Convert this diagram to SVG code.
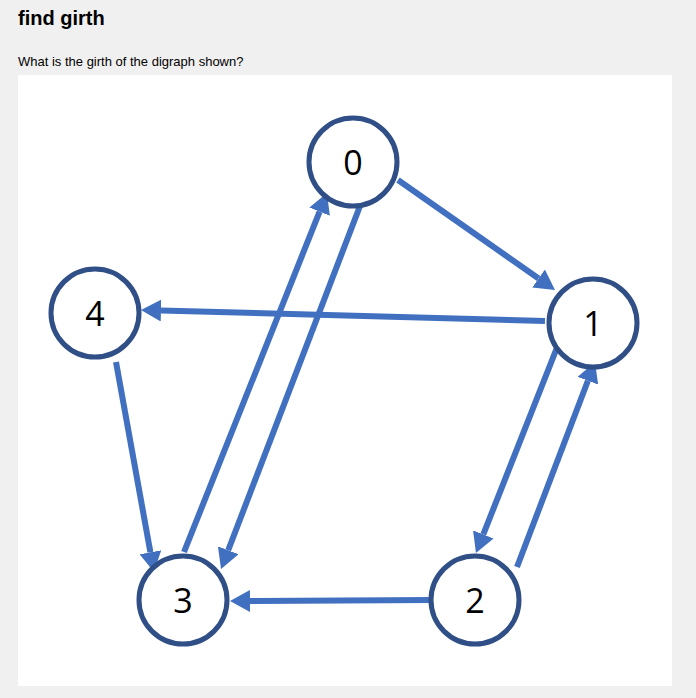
<svg xmlns="http://www.w3.org/2000/svg" width="696" height="698" viewBox="0 0 696 698">
<style>
.n circle{fill:#fff;stroke:#2f4f86;stroke-width:5}
.n text{font-family:"Open Sans","Liberation Sans",sans-serif;font-size:34px;text-anchor:middle;dominant-baseline:central;fill:#000}
.e line{stroke:#4170c0;stroke-width:6}
</style>
<defs><marker id="a" markerUnits="userSpaceOnUse" markerWidth="20" markerHeight="22" refX="0" refY="11" orient="auto"><path d="M0,0 L20,11 L0,22 z" fill="#4170c0"/></marker></defs>
<rect width="696" height="698" fill="#f0f0f0"/>
<rect x="18" y="75" width="654" height="611" fill="#fff"/>
<text x="18" y="25" font-family="Liberation Sans,Arial,sans-serif" font-size="20" font-weight="bold">find girth</text>
<text x="18" y="66" font-family="Liberation Sans,Arial,sans-serif" font-size="13">What is the girth of the digraph shown?</text>
<g class="e" id="edges">
<line x1="398" y1="180" x2="538.6" y2="278.5" marker-end="url(#a)"/>
<line x1="545" y1="321" x2="161" y2="310.5" marker-end="url(#a)"/>
<line x1="116" y1="362" x2="150.4" y2="552.3" marker-end="url(#a)"/>
<line x1="184" y1="552" x2="319.6" y2="211.6" marker-end="url(#a)"/>
<line x1="373" y1="172" x2="228.2" y2="550.3" marker-end="url(#a)"/>
<line x1="560" y1="340" x2="483.3" y2="534.4" marker-end="url(#a)"/>
<line x1="517" y1="567" x2="587.9" y2="380.7" marker-end="url(#a)"/>
<line x1="432" y1="600" x2="250" y2="601" marker-end="url(#a)"/>
</g>
<g class="n" id="n0"><circle cx="353" cy="162" r="44"/><text x="353" y="162">0</text></g>
<g class="n" id="n1"><circle cx="593" cy="323" r="44"/><text x="593" y="323">1</text></g>
<g class="n" id="n2"><circle cx="475" cy="600" r="44"/><text x="475" y="600">2</text></g>
<g class="n" id="n3"><circle cx="183" cy="600" r="44"/><text x="183" y="600">3</text></g>
<g class="n" id="n4"><circle cx="95" cy="313" r="44"/><text x="95" y="313">4</text></g>
</svg>
